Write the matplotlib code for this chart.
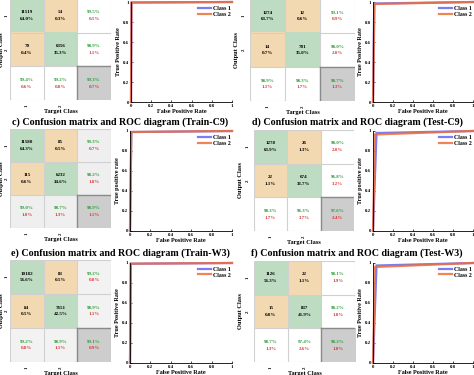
import matplotlib
matplotlib.use("Agg")
import matplotlib.pyplot as plt
import matplotlib.colors as mcolors
import numpy as np

plt.rcParams['font.family'] = ['Liberation Serif', 'DejaVu Serif']
plt.rcParams['font.weight'] = 'bold'

W, H = 474, 375

# ---------------- data ----------------
class_ticks = ["1", "2"]
roc_ticks = [0, 0.2, 0.4, 0.6, 0.8, 1]
roc_tick_labels = ["0", "0.2", "0.4", "0.6", "0.8", "1"]
legend_labels = ["Class 1", "Class 2"]

captions = ["c) Confusion matrix and ROC diagram (Train-C9)",
            "d) Confusion matrix and ROC diagram (Test-C9)",
            "e) Confusion matrix and ROC diagram (Train-W3)",
            "f) Confusion matrix and ROC diagram (Test-W3)"]

# panel a (row 1 left)
counts_a = [[11519, 54], [70, 6356]]
pct_a = [["64.0%", "0.3%"], ["0.4%", "35.3%"]]
row_ok_a = ["99.5%", "98.9%"]; row_err_a = ["0.5%", "1.1%"]
col_ok_a = ["99.4%", "99.2%"]; col_err_a = ["0.6%", "0.8%"]
all_a = ["99.3%", "0.7%"]
# panel b (row 1 right)
counts_b = [[1274, 12], [14, 701]]
pct_b = [["63.7%", "0.6%"], ["0.7%", "35.0%"]]
row_ok_b = ["99.1%", "98.0%"]; row_err_b = ["0.9%", "2.0%"]
col_ok_b = ["98.9%", "98.3%"]; col_err_b = ["1.1%", "1.7%"]
all_b = ["98.7%", "1.3%"]
# panel c (Train-C9)
counts_c = [[11580, 85], [115, 6232]]
pct_c = [["64.3%", "0.5%"], ["0.6%", "34.6%"]]
row_ok_c = ["99.3%", "98.2%"]; row_err_c = ["0.7%", "1.8%"]
col_ok_c = ["99.0%", "98.7%"]; col_err_c = ["1.0%", "1.3%"]
all_c = ["98.9%", "1.1%"]
# panel d (Test-C9)
counts_d = [[1278, 26], [22, 674]]
pct_d = [["63.9%", "1.3%"], ["1.1%", "33.7%"]]
row_ok_d = ["98.0%", "96.8%"]; row_err_d = ["2.0%", "3.2%"]
col_ok_d = ["98.3%", "96.3%"]; col_err_d = ["1.7%", "3.7%"]
all_d = ["97.6%", "2.4%"]
# panel e (Train-W3)
counts_e = [[10182, 83], [84, 7651]]
pct_e = [["56.6%", "0.5%"], ["0.5%", "42.5%"]]
row_ok_e = ["99.2%", "98.9%"]; row_err_e = ["0.8%", "1.1%"]
col_ok_e = ["99.2%", "98.9%"]; col_err_e = ["0.8%", "1.1%"]
all_e = ["99.1%", "0.9%"]
# panel f (Test-W3)
counts_f = [[1126, 22], [15, 837]]
pct_f = [["56.3%", "1.1%"], ["0.8%", "41.9%"]]
row_ok_f = ["98.1%", "98.2%"]; row_err_f = ["1.9%", "1.8%"]
col_ok_f = ["98.7%", "97.4%"]; col_err_f = ["1.3%", "2.6%"]
all_f = ["98.2%", "1.8%"]

# ROC curves (fpr, tpr) per panel, class 1 and class 2
roc_a = [([0, 0.005, 1], [0, 0.995, 1]), ([0, 0.005, 1], [0, 0.995, 1])]
roc_b = [([0, 0.012, 1], [0, 0.985, 1]), ([0, 0.015, 1], [0, 0.98, 1])]
roc_c = [([0, 0.013, 1], [0, 0.99, 1]), ([0, 0.013, 1], [0, 0.99, 1])]
roc_d = [([0, 0.035, 1], [0, 0.98, 1]), ([0, 0.02, 1], [0, 0.965, 1])]
roc_e = [([0, 0.008, 1], [0, 0.993, 1]), ([0, 0.008, 1], [0, 0.993, 1])]
roc_f = [([0, 0.035, 1], [0, 0.975, 1]), ([0, 0.02, 1], [0, 0.96, 1])]

roc_ylabels = ["True Positive Rate", "True Positive Rate",
               "True positive rate", "True positive rate",
               "True Positive Rate", "True Positive Rate"]

# ---------------- style ----------------
GREEN = '#bedcc2'
TAN = '#f3d9b1'
GRAY_CORNER = '#cdcdcd'
TXT_GREEN = '#2f9e3a'
TXT_RED = '#d83a3a'
C1 = '#7c7cf5'
C2 = '#ee6e3a'

fig = plt.figure(figsize=(W / 100, H / 100), dpi=100)


def rect(x0, y0, x1, y1):
    return [x0 / W, 1 - y1 / H, (x1 - x0) / W, (y1 - y0) / H]


def draw_cm(box, counts, pct, row_ok, row_err, col_ok, col_err, overall, margin_col, tight=False):
    ax = fig.add_axes(rect(*box))
    cmap = mcolors.ListedColormap([GREEN, TAN, margin_col, GRAY_CORNER])
    kinds = np.array([[0, 1, 2], [1, 0, 2], [2, 2, 3]])
    ax.imshow(kinds, cmap=cmap, vmin=-0.5, vmax=3.5, extent=(0, 3, 3, 0),
              aspect='auto', interpolation='nearest')
    fs = 3.6
    for i in range(2):
        for j in range(2):
            ax.text(j + 0.5, i + 0.4, str(counts[i][j]), ha='center', va='center',
                    fontsize=fs, fontweight='bold', color='black')
            ax.text(j + 0.5, i + 0.6, pct[i][j], ha='center', va='center',
                    fontsize=fs, fontweight='bold', color='black')
        ax.text(2.5, i + 0.4, row_ok[i], ha='center', va='center', fontsize=fs, color=TXT_GREEN)
        ax.text(2.5, i + 0.6, row_err[i], ha='center', va='center', fontsize=fs, color=TXT_RED)
        ax.text(i + 0.5, 2.4, col_ok[i], ha='center', va='center', fontsize=fs, color=TXT_GREEN)
        ax.text(i + 0.5, 2.6, col_err[i], ha='center', va='center', fontsize=fs, color=TXT_RED)
    ax.text(2.5, 2.4, overall[0], ha='center', va='center', fontsize=fs, color=TXT_GREEN)
    ax.text(2.5, 2.6, overall[1], ha='center', va='center', fontsize=fs, color=TXT_RED)
    for v in [0, 1, 2, 3]:
        ax.axhline(v, color='#d0d0d0', lw=0.8)
        ax.axvline(v, color='#d0d0d0', lw=0.8)
    ax.plot([2, 2], [2, 3], color='#8a8a8a', lw=1.0)
    ax.plot([2, 3], [2, 2], color='#8a8a8a', lw=1.0)
    ax.set_xlim(0, 3)
    ax.set_ylim(3, 0)
    ax.set_xticks([0.5, 1.5])
    ax.set_xticklabels(class_ticks, rotation=90, fontsize=3.5)
    ax.set_yticks([0.5, 1.5])
    ax.set_yticklabels(class_ticks, rotation=90, fontsize=3.5, va='center')
    ax.tick_params(axis='x', length=0, pad=3)
    ax.tick_params(axis='y', length=0, pad=1.0 if tight else 3)
    for s in ax.spines.values():
        s.set_visible(False)
    ax.set_xlabel("Target Class", fontsize=4.6, fontweight='bold', labelpad=2)
    ax.set_ylabel("Output Class", fontsize=4.4 if tight else 4.6, fontweight='bold',
                  labelpad=0.3 if tight else 2)
    return ax


def draw_roc(box, curves, ylabel):
    ax = fig.add_axes(rect(*box))
    for (fpr, tpr), col, lab, a in zip(curves, [C1, C2], legend_labels, [1.0, 0.85]):
        ax.plot(fpr, tpr, color=col, lw=1.6, label=lab, alpha=a, solid_joinstyle='miter')
    ax.set_xlim(0, 1)
    ax.set_ylim(0, 1)
    ax.set_xticks(roc_ticks)
    ax.set_xticklabels(roc_tick_labels, fontsize=3.5)
    ax.set_yticks(roc_ticks)
    ax.set_yticklabels(roc_tick_labels, fontsize=3.5)
    ax.tick_params(length=1.5, width=0.5, pad=1.5, direction='in')
    ax.spines['top'].set_visible(False)
    ax.spines['right'].set_visible(False)
    ax.spines['left'].set_linewidth(0.6)
    ax.spines['bottom'].set_linewidth(0.6)
    ax.set_xlabel("False Positive Rate", fontsize=4.4, fontweight='bold', labelpad=1)
    ax.set_ylabel(ylabel, fontsize=4.4, fontweight='bold', labelpad=1)
    for ln in ax.lines:
        ln.set_clip_on(False)
    leg = ax.legend(loc='upper right', fontsize=4.2, frameon=False, handlelength=2.2,
                    handletextpad=0.3, labelspacing=0.15, bbox_to_anchor=(1.02, 1.0),
                    borderaxespad=0.2)
    for t in leg.get_texts():
        t.set_fontweight('bold')
    return ax


# row 1
draw_cm((10, -1, 111, 100), counts_a, pct_a, row_ok_a, row_err_a, col_ok_a, col_err_a, all_a, 'white', tight=True)
draw_roc((131, 2, 232, 102), roc_a, roc_ylabels[0])
draw_cm((250, -1, 355, 101), counts_b, pct_b, row_ok_b, row_err_b, col_ok_b, col_err_b, all_b, 'white')
draw_roc((373, 2, 473, 102), roc_b, roc_ylabels[1])
# row 2
draw_cm((10, 129, 111, 228), counts_c, pct_c, row_ok_c, row_err_c, col_ok_c, col_err_c, all_c, '#efefef', tight=True)
draw_roc((130, 131, 232, 231), roc_c, roc_ylabels[2])
draw_cm((254, 130, 354, 231), counts_d, pct_d, row_ok_d, row_err_d, col_ok_d, col_err_d, all_d, 'white')
draw_roc((373, 131, 473, 231), roc_d, roc_ylabels[3])
# row 3
draw_cm((10, 260, 111, 362), counts_e, pct_e, row_ok_e, row_err_e, col_ok_e, col_err_e, all_e, '#f2f2f2', tight=True)
draw_roc((130, 263, 232, 363), roc_e, roc_ylabels[4])
draw_cm((254, 261, 355, 362), counts_f, pct_f, row_ok_f, row_err_f, col_ok_f, col_err_f, all_f, 'white')
draw_roc((373, 263, 473, 363), roc_f, roc_ylabels[5])

# captions
cap_pos = [(120, 122), (357, 122), (120, 253), (357, 253)]
for txt, (cx, cy) in zip(captions, cap_pos):
    fig.text(cx / W, 1 - cy / H, txt, ha='center', va='center', fontsize=7.2, fontweight='bold')

fig.savefig("out.png", dpi=100)
